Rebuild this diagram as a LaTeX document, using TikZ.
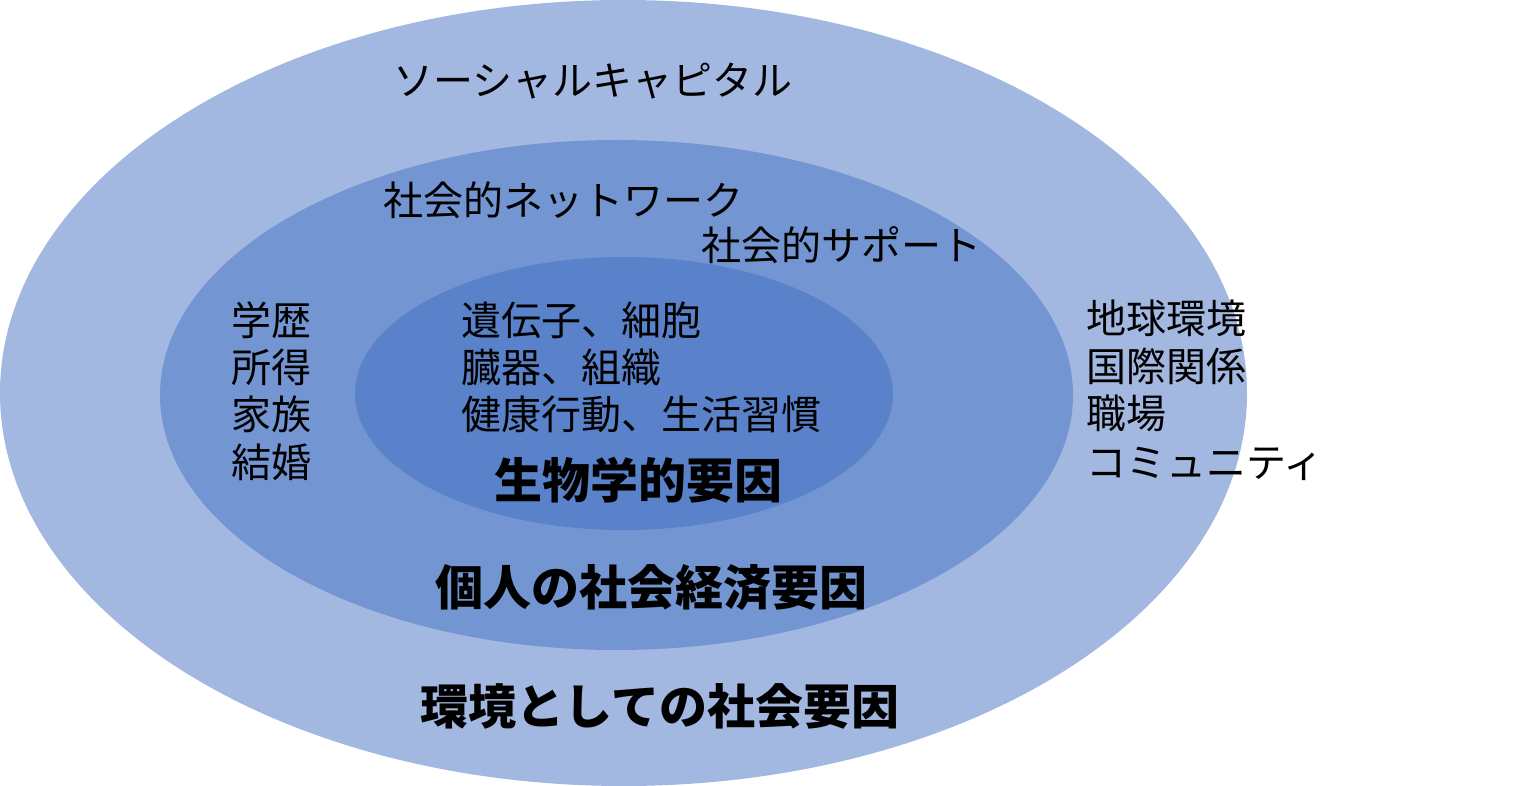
\documentclass[tikz,border=0pt]{standalone}
\usepackage{fontspec}
\newfontfamily\jp{Noto Sans CJK JP}
\definecolor{outerc}{HTML}{A2B8E1}
\definecolor{midc}{HTML}{7395D1}
\definecolor{innerc}{HTML}{5A82CA}
\begin{document}
\begin{tikzpicture}[x=1pt,y=-1pt,
  lbl/.style={inner sep=0pt,anchor=west,yshift=-12pt,font=\jp\fontsize{40}{47}\selectfont,text height=0.88em,text depth=0.12em},
  ttl/.style={inner sep=0pt,anchor=center,yshift=-14pt,font=\jp\bfseries\fontsize{48}{56}\selectfont,text height=0.88em,text depth=0.12em}]
\useasboundingbox (0,0) rectangle (1536,786);
\fill[outerc] (623.5,393) ellipse [x radius=623.5, y radius=393];
\fill[midc] (616.5,395) ellipse [x radius=456.5, y radius=255];
\fill[innerc] (624,393.5) ellipse [x radius=269, y radius=136.5];
\node[lbl] (sc) at (393,80) {ソーシャルキャピタル};
\node[lbl] (sn) at (383,200) {社会的ネットワーク};
\node[lbl] (ss) at (701,245) {社会的サポート};
\node[lbl] (a1) at (231,320) {学歴};
\node[lbl] (a2) at (231,367) {所得};
\node[lbl] (a3) at (231,414) {家族};
\node[lbl] (a4) at (231,462) {結婚};
\node[lbl] (b1) at (461,320) {遺伝子、細胞};
\node[lbl] (b2) at (461,367) {臓器、組織};
\node[lbl] (b3) at (461,414) {健康行動、生活習慣};
\node[lbl] (c1) at (1086,318) {地球環境};
\node[lbl] (c2) at (1086,366) {国際関係};
\node[lbl] (c3) at (1086,413) {職場};
\node[lbl] (c4) at (1086,462) {コミュニティ};
\node[ttl] (t1) at (638,481) {生物学的要因};
\node[ttl] (t2) at (651,588) {個人の社会経済要因};
\node[ttl] (t3) at (660,707) {環境としての社会要因};
\end{tikzpicture}
\end{document}
